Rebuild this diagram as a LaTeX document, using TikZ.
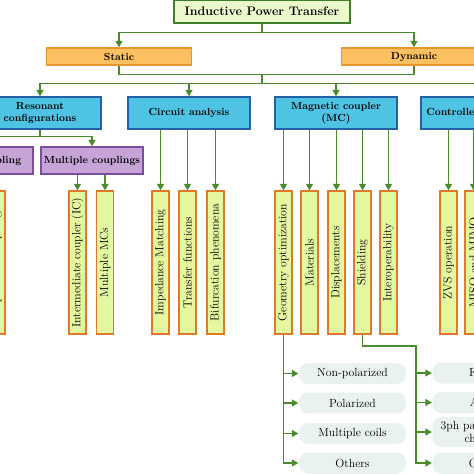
\documentclass[tikz,border=0pt]{standalone}
\usepackage{amsmath}
\usepackage{tikz}
\usetikzlibrary{arrows.meta}
\definecolor{wire}{RGB}{74,140,43}
\definecolor{titlefill}{RGB}{235,249,205}
\definecolor{titleline}{RGB}{63,127,42}
\definecolor{modefill}{RGB}{253,192,96}
\definecolor{modeline}{RGB}{232,150,46}
\definecolor{areafill}{RGB}{78,195,227}
\definecolor{arealine}{RGB}{35,96,168}
\definecolor{subfill}{RGB}{198,164,216}
\definecolor{subline}{RGB}{123,77,158}
\definecolor{leaffill}{RGB}{228,248,160}
\definecolor{leafline}{RGB}{224,122,42}
\definecolor{pillfill}{RGB}{233,241,241}
\begin{document}
\begin{tikzpicture}[x=1pt,y=-1pt,line width=1.3pt,
  conn/.style={draw=wire,-{Triangle[length=6.5pt,width=7pt]}},
  link/.style={draw=wire},
  topbox/.style={draw=titleline,fill=titlefill,minimum width=176pt,minimum height=23pt,inner sep=1pt,font=\fontsize{12.4}{14}\selectfont\bfseries},
  modebox/.style={draw=modeline,fill=modefill,minimum width=145pt,minimum height=17pt,inner sep=0pt,font=\fontsize{10.3}{12}\selectfont\bfseries},
  areabox/.style={draw=arealine,fill=areafill,minimum width=122pt,minimum height=32pt,inner sep=1pt,align=center,font=\fontsize{10.3}{12}\selectfont\bfseries},
  subbox/.style={draw=subline,fill=subfill,minimum width=102pt,minimum height=27pt,inner sep=0pt,font=\fontsize{10.3}{12}\selectfont\bfseries},
  leafbox/.style={draw=leafline,fill=leaffill,rotate=90,minimum width=143pt,minimum height=17pt,inner sep=0pt,font=\fontsize{11.8}{13}\selectfont},
  pill/.style={fill=pillfill,rounded corners=9pt,minimum width=107pt,minimum height=21pt,inner sep=0pt,align=center,font=\fontsize{11.8}{13}\selectfont}]
\useasboundingbox (0,0) rectangle (474,474);
\clip (0,0) rectangle (474,474);

\node[topbox] (ipt) at (262,11.5) {Inductive Power Transfer};
\node[modebox] (st) at (119,56.5) {Static};
\node[modebox] (dy) at (414,56.5) {Dynamic};

\node[areabox] (res) at (40,113) {Resonant\\configurations};
\node[areabox] (ca) at (189,113) {Circuit analysis};
\node[areabox] (mc) at (336,113) {Magnetic coupler\\(MC)};
\node[areabox] (ctl) at (482,113) {Controller techniques};

\node[subbox] (scp) at (-18,160.5) {Single coupling};
\node[subbox] (mcp) at (92,160.5) {Multiple couplings};

\node[leafbox] (comp) at (-3.5,262.5) {Compensation topologies};
\node[leafbox] (ic) at (77.5,262.5) {Intermediate coupler (IC)};
\node[leafbox] (mmc) at (105,262.5) {Multiple MCs};
\node[leafbox] (imp) at (160.5,262.5) {Impedance Matching};
\node[leafbox] (tf) at (187.5,262.5) {Transfer functions};
\node[leafbox] (bif) at (215.5,262.5) {Bifurcation phenomena};
\node[leafbox] (geo) at (283.5,262.5) {Geometry optimization};
\node[leafbox] (mat) at (309.5,262.5) {Materials};
\node[leafbox] (dis) at (336.5,262.5) {Displacements};
\node[leafbox] (shi) at (362.5,262.5) {Shielding};
\node[leafbox] (int) at (388.5,262.5) {Interoperability};
\node[leafbox] (zvs) at (448.5,262.5) {ZVS operation};
\node[leafbox] (mimo) at (473.5,262.5) {MISO and MIMO};

\node[pill] (np1) at (352.5,373.5) {Non-polarized};
\node[pill] (np2) at (352.5,403) {Polarized};
\node[pill] (np3) at (352.5,433.5) {Multiple coils};
\node[pill] (np4) at (352.5,463) {Others};
\node[pill] (sh1) at (486,373) {Ferrite};
\node[pill] (sh2) at (486,402.5) {Active};
\node[pill,minimum height=30pt] (sh3) at (486,432) {3ph passive shield\\channels};
\node[pill] (sh4) at (486,463) {Others};

\draw[conn] (ipt.south) -- ++(0,9) -| (st.north);
\draw[conn] (ipt.south) -- ++(0,9) -| (dy.north);
\draw[link] (st.south) -- ++(0,9) coordinate (sl) -| (dy.south);
\draw[conn] (sl -| ipt.south) -- ++(0,9) coordinate (bus) -| (res.north);
\foreach \n in {ca,mc,ctl}
  \draw[conn] (bus) -| (\n.north);

\draw[conn] (res.south) -- ++(0,7) coordinate (rb) -| (mcp.north);
\draw[conn] (rb) -| (scp.north);
\draw[conn] (scp.south -| comp) -- (comp.east);
\foreach \n in {ic,mmc}
  \draw[conn] (mcp.south -| \n) -- (\n.east);
\foreach \n in {imp,tf,bif}
  \draw[conn] (ca.south -| \n) -- (\n.east);
\foreach \n in {geo,mat,dis,shi,int}
  \draw[conn] (mc.south -| \n) -- (\n.east);
\foreach \n in {zvs,mimo}
  \draw[conn] (ctl.south -| \n) -- (\n.east);

\draw[conn] (geo.west) |- (np4.west);
\foreach \n in {np1,np2,np3}
  \draw[conn] (geo.west |- \n.west) -- (\n.west);
\coordinate (shb) at (416,346);
\draw[conn] (shi.west) |- (shb) |- (sh4.west);
\foreach \n in {sh1,sh2,sh3}
  \draw[conn] (shb |- \n.west) -- (\n.west);
\end{tikzpicture}
\end{document}
